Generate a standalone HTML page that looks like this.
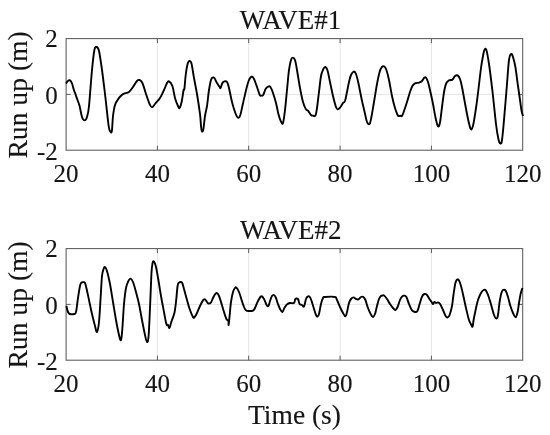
<!DOCTYPE html>
<html><head><meta charset="utf-8"><title>Run up</title>
<style>
html,body{margin:0;padding:0;background:#fff;}
body{width:550px;height:435px;overflow:hidden;}
svg{display:block;}
text{font-family:"Liberation Serif","Times New Roman",serif;fill:#151515;stroke:#151515;stroke-width:0.12px;}
.tk{font-size:25px;}
.lb{font-size:27.5px;}
.tt{font-size:27px;}
</style></head><body>
<svg width="550" height="435" viewBox="0 0 550 435">
<rect width="550" height="435" fill="#fff"/>
<line x1="157.4" y1="38.6" x2="157.4" y2="150.2" stroke="#e5e5e5" stroke-width="1"/>
<line x1="248.7" y1="38.6" x2="248.7" y2="150.2" stroke="#e5e5e5" stroke-width="1"/>
<line x1="340.1" y1="38.6" x2="340.1" y2="150.2" stroke="#e5e5e5" stroke-width="1"/>
<line x1="431.4" y1="38.6" x2="431.4" y2="150.2" stroke="#e5e5e5" stroke-width="1"/>
<line x1="66.1" y1="94.4" x2="522.7" y2="94.4" stroke="#e5e5e5" stroke-width="1"/>
<rect x="66.1" y="38.6" width="456.6" height="111.6" fill="none" stroke="#5a5a5a" stroke-width="1.05"/>
<line x1="157.4" y1="150.2" x2="157.4" y2="145.7" stroke="#5a5a5a" stroke-width="1.0"/>
<line x1="157.4" y1="38.6" x2="157.4" y2="43.1" stroke="#5a5a5a" stroke-width="1.0"/>
<line x1="248.7" y1="150.2" x2="248.7" y2="145.7" stroke="#5a5a5a" stroke-width="1.0"/>
<line x1="248.7" y1="38.6" x2="248.7" y2="43.1" stroke="#5a5a5a" stroke-width="1.0"/>
<line x1="340.1" y1="150.2" x2="340.1" y2="145.7" stroke="#5a5a5a" stroke-width="1.0"/>
<line x1="340.1" y1="38.6" x2="340.1" y2="43.1" stroke="#5a5a5a" stroke-width="1.0"/>
<line x1="431.4" y1="150.2" x2="431.4" y2="145.7" stroke="#5a5a5a" stroke-width="1.0"/>
<line x1="431.4" y1="38.6" x2="431.4" y2="43.1" stroke="#5a5a5a" stroke-width="1.0"/>
<line x1="66.1" y1="94.4" x2="70.6" y2="94.4" stroke="#5a5a5a" stroke-width="1.0"/>
<line x1="522.7" y1="94.4" x2="518.2" y2="94.4" stroke="#5a5a5a" stroke-width="1.0"/>
<line x1="157.4" y1="248.6" x2="157.4" y2="360.2" stroke="#e5e5e5" stroke-width="1"/>
<line x1="248.7" y1="248.6" x2="248.7" y2="360.2" stroke="#e5e5e5" stroke-width="1"/>
<line x1="340.1" y1="248.6" x2="340.1" y2="360.2" stroke="#e5e5e5" stroke-width="1"/>
<line x1="431.4" y1="248.6" x2="431.4" y2="360.2" stroke="#e5e5e5" stroke-width="1"/>
<line x1="66.1" y1="304.4" x2="522.7" y2="304.4" stroke="#e5e5e5" stroke-width="1"/>
<rect x="66.1" y="248.6" width="456.6" height="111.6" fill="none" stroke="#5a5a5a" stroke-width="1.05"/>
<line x1="157.4" y1="360.2" x2="157.4" y2="355.7" stroke="#5a5a5a" stroke-width="1.0"/>
<line x1="157.4" y1="248.6" x2="157.4" y2="253.1" stroke="#5a5a5a" stroke-width="1.0"/>
<line x1="248.7" y1="360.2" x2="248.7" y2="355.7" stroke="#5a5a5a" stroke-width="1.0"/>
<line x1="248.7" y1="248.6" x2="248.7" y2="253.1" stroke="#5a5a5a" stroke-width="1.0"/>
<line x1="340.1" y1="360.2" x2="340.1" y2="355.7" stroke="#5a5a5a" stroke-width="1.0"/>
<line x1="340.1" y1="248.6" x2="340.1" y2="253.1" stroke="#5a5a5a" stroke-width="1.0"/>
<line x1="431.4" y1="360.2" x2="431.4" y2="355.7" stroke="#5a5a5a" stroke-width="1.0"/>
<line x1="431.4" y1="248.6" x2="431.4" y2="253.1" stroke="#5a5a5a" stroke-width="1.0"/>
<line x1="66.1" y1="304.4" x2="70.6" y2="304.4" stroke="#5a5a5a" stroke-width="1.0"/>
<line x1="522.7" y1="304.4" x2="518.2" y2="304.4" stroke="#5a5a5a" stroke-width="1.0"/>
<path d="M66.1 83.6C66.2 83.4 66.5 82.8 66.8 82.3C67.1 81.8 67.6 81.1 68.1 80.8C68.5 80.5 69.0 80.2 69.5 80.3C70.0 80.4 70.5 80.6 70.9 81.2C71.3 81.8 71.7 82.6 72.1 83.7C72.5 84.8 72.8 86.3 73.2 87.6C73.6 88.9 74.0 90.4 74.4 91.5C74.8 92.6 75.1 93.0 75.5 94.2C75.9 95.4 76.2 96.4 76.9 98.4C77.6 100.4 78.8 102.9 79.6 106.0C80.4 109.1 81.2 114.6 82.0 117.0C82.8 119.4 83.8 120.4 84.6 120.4C85.4 120.4 86.3 119.4 87.0 117.0C87.7 114.6 88.2 113.8 89.0 106.0C89.8 98.2 91.1 79.3 92.0 70.0C92.9 60.7 93.6 53.8 94.4 50.0C95.2 46.2 95.8 46.8 96.6 47.0C97.4 47.2 98.1 47.2 99.0 51.0C99.9 54.8 101.0 62.8 102.0 70.0C103.0 77.2 103.9 85.0 105.0 94.0C106.1 103.0 107.6 117.8 108.4 124.0C109.2 130.2 109.4 129.8 110.0 131.0C110.6 132.2 111.3 133.7 111.8 131.4C112.3 129.1 112.5 120.9 112.9 117.0C113.3 113.1 113.8 110.3 114.2 108.0C114.7 105.7 115.1 104.7 115.6 103.4C116.1 102.2 116.7 101.5 117.3 100.5C117.9 99.5 118.7 98.3 119.4 97.4C120.1 96.5 120.8 95.8 121.6 95.2C122.4 94.6 122.8 94.1 124.0 93.6C125.2 93.1 127.5 93.1 129.0 92.0C130.5 90.9 131.7 88.8 133.0 87.0C134.3 85.2 135.9 82.2 137.0 81.0C138.1 79.8 138.7 79.7 139.6 80.0C140.5 80.3 141.3 80.7 142.4 83.0C143.5 85.3 144.8 90.5 146.0 94.0C147.2 97.5 148.6 101.8 149.6 104.0C150.6 106.2 151.1 107.4 152.0 107.4C152.9 107.4 153.7 105.6 155.0 104.0C156.3 102.4 158.5 100.3 160.0 98.0C161.5 95.7 162.8 92.5 164.0 90.0C165.2 87.5 166.2 84.4 167.0 83.0C167.8 81.6 168.1 80.9 169.0 81.4C169.9 81.9 171.4 83.2 172.4 86.0C173.4 88.8 174.1 94.7 175.0 98.0C175.9 101.3 177.2 104.3 178.0 106.0C178.8 107.7 179.0 108.7 179.6 108.0C180.2 107.3 180.9 105.0 181.6 102.0C182.3 99.0 183.1 92.2 183.6 90.0C184.1 87.8 184.1 91.3 184.4 89.0C184.7 86.7 185.1 80.2 185.6 76.0C186.1 71.8 186.9 66.5 187.6 64.0C188.3 61.5 188.9 61.0 189.6 61.0C190.3 61.0 190.9 61.2 191.6 64.0C192.3 66.8 193.1 73.0 194.0 78.0C194.9 83.0 196.0 88.0 197.0 94.0C198.0 100.0 199.3 108.7 200.0 114.0C200.7 119.3 200.7 123.1 201.0 126.0C201.3 128.9 201.6 130.9 202.0 131.4C202.4 131.9 202.9 131.6 203.4 129.0C203.9 126.4 204.4 119.8 205.0 116.0C205.6 112.2 206.3 110.3 207.0 106.0C207.7 101.7 208.3 94.3 209.0 90.0C209.7 85.7 210.4 82.1 211.0 80.0C211.6 77.9 212.0 77.9 212.6 77.6C213.2 77.3 213.7 77.1 214.4 78.0C215.1 78.9 216.1 81.5 217.0 83.0C217.9 84.5 219.0 86.2 219.6 87.0C220.2 87.8 220.1 88.7 220.6 88.0C221.1 87.3 221.8 84.1 222.4 83.0C223.0 81.9 223.6 81.6 224.4 81.4C225.2 81.2 226.2 80.9 227.0 82.0C227.8 83.1 228.2 84.7 229.0 88.0C229.8 91.3 231.0 98.0 232.0 102.0C233.0 106.0 234.1 109.4 235.0 112.0C235.9 114.6 236.8 116.7 237.6 117.4C238.4 118.1 239.2 117.9 240.0 116.0C240.8 114.1 241.5 110.0 242.4 106.0C243.3 102.0 244.6 96.2 245.6 92.0C246.6 87.8 247.6 83.6 248.6 81.0C249.6 78.4 250.7 76.9 251.6 76.6C252.5 76.3 253.1 77.3 254.0 79.0C254.9 80.7 256.0 84.3 257.0 87.0C258.0 89.7 259.1 93.6 259.8 95.0C260.6 96.4 260.9 95.6 261.5 95.6C262.1 95.6 262.5 96.1 263.2 95.0C263.9 93.9 264.8 90.4 265.6 89.0C266.4 87.6 267.2 86.9 268.0 86.6C268.8 86.3 269.6 85.9 270.4 87.0C271.2 88.1 272.1 90.3 273.0 93.0C273.9 95.7 275.1 99.5 276.0 103.0C276.9 106.5 277.6 110.9 278.4 114.0C279.2 117.1 280.2 120.1 281.0 121.6C281.8 123.1 282.3 124.9 283.0 123.0C283.7 121.1 284.3 115.5 285.0 110.0C285.7 104.5 286.3 96.7 287.0 90.0C287.7 83.3 288.3 75.0 289.0 70.0C289.7 65.0 290.4 62.1 291.0 60.0C291.6 57.9 291.9 57.6 292.6 57.6C293.3 57.6 294.3 57.9 295.0 60.0C295.7 62.1 296.2 65.3 297.0 70.0C297.8 74.7 299.0 82.7 300.0 88.0C301.0 93.3 302.0 98.4 303.0 102.0C304.0 105.6 305.2 108.0 306.0 109.4C306.8 110.8 307.2 109.7 308.0 110.6C308.8 111.5 310.2 114.2 311.0 115.0C311.8 115.8 312.3 115.5 313.0 115.6C313.7 115.7 314.7 116.9 315.4 115.6C316.1 114.3 316.4 111.9 317.0 108.0C317.6 104.1 318.3 97.3 319.0 92.0C319.7 86.7 320.3 79.8 321.0 76.0C321.7 72.2 322.7 70.5 323.4 69.0C324.1 67.5 324.7 66.8 325.4 67.0C326.1 67.2 326.6 67.5 327.4 70.0C328.2 72.5 329.1 77.7 330.0 82.0C330.9 86.3 332.0 91.8 333.0 96.0C334.0 100.2 335.2 104.8 336.0 107.0C336.8 109.2 336.9 109.3 337.6 109.4C338.3 109.5 339.1 108.7 340.0 107.6C340.9 106.5 342.2 104.1 343.0 103.0C343.8 101.9 344.3 102.8 345.0 101.0C345.7 99.2 346.3 95.2 347.0 92.0C347.7 88.8 348.3 84.8 349.0 82.0C349.7 79.2 350.2 76.7 351.0 75.0C351.8 73.3 352.8 71.8 353.6 71.6C354.4 71.4 355.2 71.9 356.0 74.0C356.8 76.1 357.7 79.8 358.6 84.0C359.5 88.2 360.6 94.3 361.6 99.0C362.6 103.7 363.7 108.2 364.6 112.0C365.5 115.8 366.2 120.0 367.0 122.0C367.8 124.0 368.8 125.0 369.6 124.0C370.4 123.0 370.9 119.7 371.6 116.0C372.3 112.3 373.1 107.3 374.0 102.0C374.9 96.7 376.1 89.0 377.0 84.0C377.9 79.0 378.8 74.9 379.6 72.0C380.4 69.1 381.2 67.7 382.0 66.8C382.8 65.9 383.7 66.1 384.4 66.6C385.1 67.1 385.6 67.8 386.4 70.0C387.2 72.2 388.1 75.7 389.0 80.0C389.9 84.3 391.0 91.3 392.0 96.0C393.0 100.7 394.0 104.7 395.0 108.0C396.0 111.3 397.1 114.3 398.0 115.6C398.9 116.9 399.7 115.5 400.4 115.6C401.1 115.7 401.4 116.8 402.0 116.0C402.6 115.2 403.2 113.3 404.0 111.0C404.8 108.7 406.0 105.2 407.0 102.0C408.0 98.8 409.1 94.7 410.0 92.0C410.9 89.3 411.6 87.4 412.4 86.0C413.2 84.6 413.9 84.0 415.0 83.4C416.1 82.8 417.8 83.0 419.0 82.6C420.2 82.2 421.2 81.8 422.0 81.0C422.8 80.2 423.3 78.6 424.0 78.0C424.7 77.4 425.3 76.9 426.0 77.6C426.7 78.3 427.3 79.9 428.0 82.0C428.7 84.1 429.2 86.3 430.0 90.0C430.8 93.7 432.1 99.3 433.0 104.0C433.9 108.7 434.8 114.4 435.6 118.0C436.4 121.6 437.0 124.3 437.6 125.6C438.2 126.9 438.5 126.9 439.0 126.0C439.5 125.1 439.8 123.7 440.4 120.0C441.0 116.3 441.7 109.0 442.4 104.0C443.1 99.0 443.7 93.5 444.4 90.0C445.1 86.5 445.6 84.6 446.4 83.0C447.2 81.4 448.0 81.0 449.0 80.4C450.0 79.8 451.4 80.3 452.4 79.6C453.4 78.9 454.1 76.7 455.0 76.0C455.9 75.3 456.8 74.9 457.6 75.4C458.4 75.9 459.3 77.1 460.0 79.0C460.7 80.9 461.3 83.5 462.0 87.0C462.7 90.5 463.6 95.5 464.4 100.0C465.2 104.5 466.2 109.8 467.0 114.0C467.8 118.2 468.7 122.4 469.4 125.0C470.1 127.6 470.5 129.8 471.2 129.6C471.9 129.4 472.6 127.6 473.4 124.0C474.2 120.4 475.1 114.0 476.0 108.0C476.9 102.0 477.8 94.7 478.6 88.0C479.4 81.3 480.3 73.3 481.0 68.0C481.7 62.7 482.4 59.0 483.0 56.0C483.6 53.0 483.8 51.0 484.4 50.0C485.0 49.0 485.6 47.7 486.4 50.0C487.2 52.3 488.0 57.5 489.0 64.0C490.0 70.5 491.0 79.0 492.2 89.0C493.4 99.0 495.0 115.7 496.0 124.0C497.0 132.3 497.7 135.7 498.4 139.0C499.1 142.3 499.8 143.4 500.4 143.6C501.0 143.8 501.4 143.9 502.0 140.0C502.6 136.1 503.2 129.3 504.0 120.0C504.8 110.7 506.2 94.0 507.0 84.0C507.8 74.0 508.3 65.0 509.0 60.0C509.7 55.0 510.3 54.5 511.0 54.0C511.7 53.5 512.3 54.8 513.0 57.0C513.7 59.2 514.6 62.2 515.4 67.0C516.2 71.8 517.2 80.5 518.0 86.0C518.8 91.5 519.4 95.8 520.0 100.0C520.6 104.2 521.1 108.3 521.6 111.0C522.1 113.7 522.8 115.2 523.0 116.0" fill="none" stroke="#000" stroke-width="1.9" stroke-linejoin="round" stroke-linecap="butt"/>
<path d="M66.4 306.0C66.7 307.0 67.4 310.7 68.0 312.0C68.6 313.3 69.0 313.7 70.0 314.0C71.0 314.3 73.0 314.3 74.0 314.0C75.0 313.7 75.3 314.7 76.0 312.0C76.7 309.3 77.3 302.3 78.0 298.0C78.7 293.7 79.4 288.6 80.0 286.0C80.6 283.4 80.9 283.2 81.4 282.6C81.9 282.0 82.4 282.3 83.0 282.3C83.6 282.3 84.2 281.7 84.8 282.6C85.4 283.6 85.7 285.1 86.4 288.0C87.1 290.9 88.1 295.7 89.0 300.0C89.9 304.3 91.0 309.7 92.0 314.0C93.0 318.3 94.2 323.0 95.0 326.0C95.8 329.0 96.3 332.7 97.0 332.0C97.7 331.3 98.4 327.7 99.0 322.0C99.6 316.3 100.1 305.7 100.6 298.0C101.1 290.3 101.5 280.8 102.0 276.0C102.5 271.2 103.1 270.5 103.6 269.0C104.1 267.5 104.4 266.7 105.0 267.0C105.6 267.3 106.2 268.2 107.0 271.0C107.8 273.8 109.0 278.8 110.0 284.0C111.0 289.2 112.0 296.0 113.0 302.0C114.0 308.0 115.0 314.5 116.0 320.0C117.0 325.5 118.2 331.7 119.0 335.0C119.8 338.3 120.4 341.2 121.0 340.0C121.6 338.8 121.9 334.0 122.4 328.0C122.9 322.0 123.4 310.7 124.0 304.0C124.6 297.3 125.3 291.8 126.0 288.0C126.7 284.2 127.6 282.6 128.4 281.0C129.2 279.4 129.8 278.4 130.6 278.6C131.4 278.8 132.1 279.8 133.0 282.0C133.9 284.2 135.0 288.3 136.0 292.0C137.0 295.7 138.0 299.3 139.0 304.0C140.0 308.7 141.0 314.8 142.0 320.0C143.0 325.2 144.2 331.3 145.0 335.0C145.8 338.7 146.4 341.8 147.0 342.0C147.6 342.2 148.1 341.7 148.6 336.0C149.1 330.3 149.5 318.3 150.0 308.0C150.5 297.7 151.0 281.5 151.4 274.0C151.8 266.5 152.2 265.1 152.6 263.0C153.0 260.9 153.4 260.9 154.0 261.6C154.6 262.3 155.3 263.9 156.0 267.0C156.7 270.1 157.6 275.2 158.4 280.0C159.2 284.8 160.1 290.7 161.0 296.0C161.9 301.3 163.1 307.3 164.0 312.0C164.9 316.7 165.7 321.8 166.4 324.0C167.1 326.2 167.5 324.3 168.0 325.0C168.5 325.7 168.9 328.3 169.4 328.0C169.9 327.7 170.6 324.3 171.0 323.0C171.4 321.7 171.4 321.7 172.0 320.0C172.6 318.3 173.7 316.0 174.4 313.0C175.1 310.0 175.5 306.5 176.0 302.0C176.5 297.5 177.1 289.2 177.6 286.0C178.1 282.8 178.3 283.2 179.0 282.6C179.7 282.0 181.2 281.5 182.0 282.6C182.8 283.7 183.2 286.1 184.0 289.0C184.8 291.9 186.0 296.5 187.0 300.0C188.0 303.5 189.0 307.2 190.0 310.0C191.0 312.8 192.3 315.8 193.0 317.0C193.7 318.2 193.7 318.1 194.4 317.4C195.1 316.7 196.1 314.9 197.0 313.0C197.9 311.1 199.0 308.1 200.0 306.0C201.0 303.9 202.2 301.5 203.0 300.4C203.8 299.3 204.3 299.1 205.0 299.4C205.7 299.7 206.4 301.3 207.0 302.0C207.6 302.7 207.9 303.5 208.6 303.6C209.3 303.7 210.3 303.3 211.0 302.4C211.7 301.5 212.3 299.3 213.0 298.0C213.7 296.7 214.3 295.2 215.0 294.4C215.7 293.6 216.3 292.7 217.0 293.0C217.7 293.3 218.2 294.2 219.0 296.0C219.8 297.8 220.8 301.3 221.6 304.0C222.4 306.7 223.2 309.5 224.0 312.0C224.8 314.5 225.7 317.5 226.4 319.0C227.1 320.5 228.0 320.0 228.4 321.0C228.8 322.0 228.4 325.8 228.6 325.0C228.8 324.2 229.2 319.8 229.6 316.0C230.0 312.2 230.4 306.0 231.0 302.0C231.6 298.0 232.3 294.3 233.0 292.0C233.7 289.7 234.4 288.7 235.0 288.0C235.6 287.3 235.7 286.9 236.4 287.6C237.1 288.3 238.1 289.9 239.0 292.0C239.9 294.1 240.8 297.5 241.6 300.0C242.4 302.5 243.3 305.3 244.0 307.0C244.7 308.7 245.2 309.7 246.0 310.4C246.8 311.1 247.8 311.0 249.0 311.0C250.2 311.0 252.0 311.1 253.0 310.6C254.0 310.1 254.2 309.6 255.0 308.0C255.8 306.4 257.1 302.8 258.0 301.0C258.9 299.2 259.7 297.8 260.4 297.0C261.1 296.2 261.4 296.1 262.0 296.4C262.6 296.7 263.2 297.6 264.0 299.0C264.8 300.4 265.9 303.8 266.6 305.0C267.3 306.2 267.8 306.7 268.4 306.0C269.0 305.3 269.4 302.7 270.0 301.0C270.6 299.3 271.3 297.0 272.0 296.0C272.7 295.0 273.3 294.7 274.0 295.0C274.7 295.3 275.4 296.7 276.0 298.0C276.6 299.3 276.9 301.2 277.6 303.0C278.3 304.8 279.2 307.5 280.0 309.0C280.8 310.5 281.7 312.2 282.4 312.0C283.1 311.8 283.6 309.3 284.4 308.0C285.2 306.7 286.1 305.2 287.0 304.4C287.9 303.6 288.8 303.2 290.0 303.0C291.2 302.8 293.1 303.7 294.0 303.0C294.9 302.3 294.7 299.7 295.4 299.0C296.1 298.3 297.3 298.2 298.0 299.0C298.7 299.8 298.9 303.0 299.6 304.0C300.3 305.0 301.3 304.6 302.0 305.0C302.7 305.4 303.3 307.4 304.0 306.4C304.7 305.4 305.4 300.6 306.0 299.0C306.6 297.4 307.0 297.0 307.6 296.6C308.2 296.2 308.9 295.9 309.6 296.6C310.3 297.3 310.9 298.9 311.6 301.0C312.3 303.1 313.3 306.7 314.0 309.0C314.7 311.3 315.4 313.7 316.0 315.0C316.6 316.3 317.1 316.8 317.6 316.6C318.1 316.4 318.4 316.1 319.0 314.0C319.6 311.9 320.3 306.7 321.0 304.0C321.7 301.3 322.3 299.2 323.0 298.0C323.7 296.8 323.0 297.2 325.0 297.0C327.0 296.8 333.0 296.5 335.0 297.0C337.0 297.5 336.2 298.3 337.0 300.0C337.8 301.7 339.0 304.8 340.0 307.0C341.0 309.2 342.1 311.4 343.0 313.0C343.9 314.6 344.7 316.6 345.4 316.4C346.1 316.2 346.4 314.2 347.0 312.0C347.6 309.8 348.3 305.2 349.0 303.0C349.7 300.8 350.2 299.9 351.0 299.0C351.8 298.1 352.8 297.4 353.6 297.4C354.4 297.4 355.2 298.7 356.0 299.0C356.8 299.3 357.6 299.7 358.4 299.4C359.2 299.1 360.2 297.4 361.0 297.0C361.8 296.6 362.7 296.5 363.4 297.0C364.1 297.5 364.6 298.2 365.4 300.0C366.2 301.8 367.1 305.6 368.0 308.0C368.9 310.4 370.2 313.1 371.0 314.6C371.8 316.1 372.3 317.1 373.0 317.0C373.7 316.9 374.3 315.8 375.0 314.0C375.7 312.2 376.3 308.5 377.0 306.0C377.7 303.5 378.3 300.7 379.0 299.0C379.7 297.3 380.3 296.6 381.0 296.0C381.7 295.4 382.5 295.5 383.0 295.4C383.5 295.3 383.3 294.8 384.0 295.4C384.7 296.0 386.0 297.6 387.0 299.0C388.0 300.4 389.0 302.5 390.0 304.0C391.0 305.5 392.1 307.0 393.0 308.0C393.9 309.0 394.6 310.2 395.4 310.0C396.2 309.8 396.8 308.7 397.6 307.0C398.4 305.3 399.3 301.7 400.0 300.0C400.7 298.3 401.3 297.3 402.0 296.6C402.7 295.9 403.3 295.5 404.0 295.6C404.7 295.7 405.6 295.6 406.4 297.0C407.2 298.4 408.1 301.8 409.0 304.0C409.9 306.2 411.0 309.1 412.0 310.4C413.0 311.7 414.1 311.9 415.0 312.0C415.9 312.1 416.6 312.3 417.4 311.0C418.2 309.7 418.8 306.4 419.6 304.0C420.4 301.6 421.2 298.3 422.0 296.6C422.8 294.9 423.6 294.3 424.4 294.0C425.2 293.7 426.2 294.2 427.0 295.0C427.8 295.8 428.6 297.8 429.4 299.0C430.2 300.2 431.0 301.2 431.6 302.0C432.2 302.8 432.5 304.0 433.0 304.0C433.5 304.0 433.9 302.2 434.4 302.0C434.9 301.8 435.4 302.9 436.0 303.0C436.6 303.1 437.3 302.2 438.0 302.4C438.7 302.6 439.6 303.1 440.4 304.4C441.2 305.7 442.1 308.1 443.0 310.0C443.9 311.9 444.8 314.8 445.6 316.0C446.4 317.2 446.9 317.6 447.6 317.4C448.3 317.2 448.9 316.9 449.6 315.0C450.3 313.1 451.3 309.5 452.0 306.0C452.7 302.5 453.0 297.8 453.6 294.0C454.2 290.2 454.8 285.4 455.4 283.0C456.0 280.6 456.4 280.0 457.0 279.6C457.6 279.2 458.3 279.3 459.0 280.4C459.7 281.5 460.2 283.2 461.0 286.0C461.8 288.8 462.8 293.3 463.6 297.0C464.4 300.7 465.1 304.2 466.0 308.0C466.9 311.8 468.1 317.2 469.0 320.0C469.9 322.8 470.8 323.9 471.4 325.0C472.0 326.1 472.2 327.4 472.6 326.6C473.0 325.8 473.1 322.8 473.6 320.0C474.1 317.2 474.9 313.3 475.6 310.0C476.3 306.7 477.1 302.8 478.0 300.0C478.9 297.2 480.1 294.7 481.0 293.0C481.9 291.3 482.8 290.4 483.6 290.0C484.4 289.6 485.2 289.6 486.0 290.6C486.8 291.6 487.6 293.9 488.4 296.0C489.2 298.1 490.0 301.0 490.6 303.0C491.2 305.0 491.4 306.0 492.0 308.0C492.6 310.0 493.3 313.2 494.0 315.0C494.7 316.8 495.7 318.6 496.4 318.6C497.1 318.6 497.5 317.8 498.0 315.0C498.5 312.2 499.0 305.7 499.6 302.0C500.2 298.3 500.8 295.0 501.4 293.0C502.0 291.0 502.3 290.4 503.0 290.0C503.7 289.6 504.8 289.4 505.6 290.6C506.4 291.8 507.2 294.4 508.0 297.0C508.8 299.6 509.6 303.3 510.4 306.0C511.2 308.7 512.1 311.1 513.0 313.0C513.9 314.9 514.8 317.6 515.6 317.4C516.4 317.2 517.0 314.4 517.6 312.0C518.2 309.6 518.5 306.0 519.0 303.0C519.5 300.0 520.0 296.5 520.6 294.0C521.2 291.5 522.1 289.0 522.4 288.0" fill="none" stroke="#000" stroke-width="1.9" stroke-linejoin="round" stroke-linecap="butt"/>
<text x="66.1" y="181.5" text-anchor="middle" class="tk">20</text>
<text x="157.4" y="181.5" text-anchor="middle" class="tk">40</text>
<text x="248.7" y="181.5" text-anchor="middle" class="tk">60</text>
<text x="340.1" y="181.5" text-anchor="middle" class="tk">80</text>
<text x="431.4" y="181.5" text-anchor="middle" class="tk">100</text>
<text x="522.7" y="181.5" text-anchor="middle" class="tk">120</text>
<text x="57.8" y="47.0" text-anchor="end" class="tk">2</text>
<text x="57.8" y="104.0" text-anchor="end" class="tk">0</text>
<text x="57.8" y="160.0" text-anchor="end" class="tk">-2</text>
<text x="66.1" y="391.5" text-anchor="middle" class="tk">20</text>
<text x="157.4" y="391.5" text-anchor="middle" class="tk">40</text>
<text x="248.7" y="391.5" text-anchor="middle" class="tk">60</text>
<text x="340.1" y="391.5" text-anchor="middle" class="tk">80</text>
<text x="431.4" y="391.5" text-anchor="middle" class="tk">100</text>
<text x="522.7" y="391.5" text-anchor="middle" class="tk">120</text>
<text x="57.8" y="257.0" text-anchor="end" class="tk">2</text>
<text x="57.8" y="314.0" text-anchor="end" class="tk">0</text>
<text x="57.8" y="370.0" text-anchor="end" class="tk">-2</text>
<text x="290.5" y="29.3" text-anchor="middle" class="tt">WAVE#1</text>
<text x="290.7" y="239.3" text-anchor="middle" class="tt">WAVE#2</text>
<text x="294.5" y="424" text-anchor="middle" class="lb">Time (s)</text>
<text transform="translate(27.3,94.9) rotate(-90)" text-anchor="middle" class="lb" style="font-size:27.65px">Run up (m)</text>
<text transform="translate(27.3,304.9) rotate(-90)" text-anchor="middle" class="lb" style="font-size:27.65px">Run up (m)</text>
</svg>
</body></html>
